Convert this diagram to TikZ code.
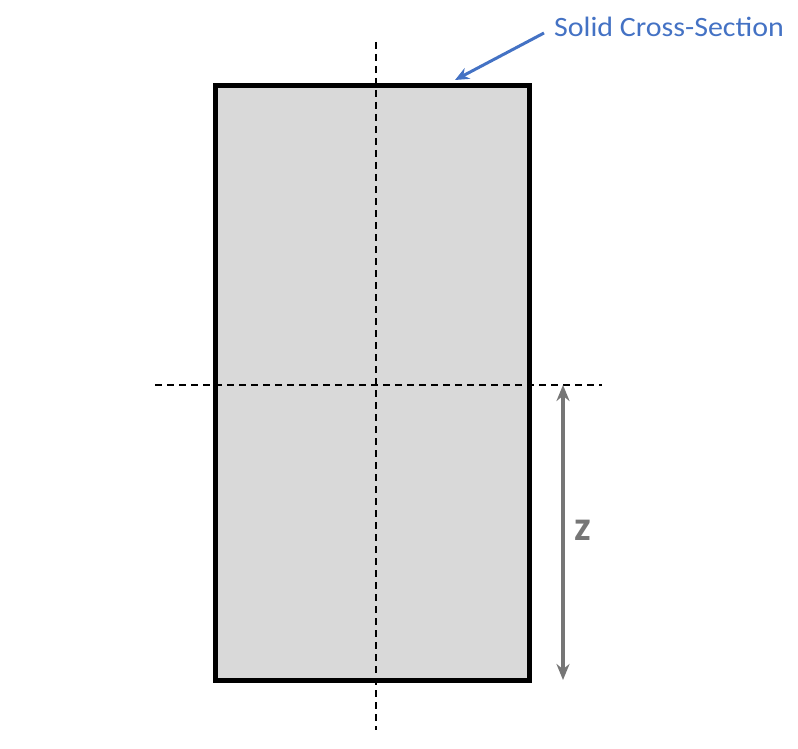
\documentclass[tikz,border=0pt]{standalone}
\usepackage{fontspec}
\setmainfont{Carlito}
\newfontfamily\labelfont[FakeStretch=1.07]{Carlito}
\usetikzlibrary{arrows.meta}
\tikzset{
  section/.style={draw=black, line width=5pt, fill={rgb,255:red,217;green,217;blue,217}},
  axisline/.style={draw=black, line width=1.2pt, dash pattern=on 7pt off 5pt},
  dimarrow/.style={draw={rgb,255:red,118;green,118;blue,118}, line width=4pt, {Stealth[length=16pt,width=13pt]}-{Stealth[length=16pt,width=13pt]}},
  callout/.style={draw={rgb,255:red,68;green,114;blue,196}, line width=3pt, -{Stealth[length=14pt,width=12pt]}},
}
\begin{document}
\begin{tikzpicture}[x=1pt,y=-1pt]
\useasboundingbox (0,0) rectangle (798,749);
\node[section, minimum width=314pt, minimum height=595pt, inner sep=0pt, outer sep=0pt, anchor=north west] (rect) at (215.5,85.5) {};
\coordinate (vtop) at (376,42);
\coordinate (vbot) at (376,730);
\coordinate (hl) at (155,385);
\coordinate (hr) at (602,385);
\draw[axisline] (vtop) -- (vbot);
\draw[axisline] (hl) -- (hr);
\coordinate (ztop) at (563,385);
\coordinate (zbot) at (563,680);
\draw[dimarrow] (ztop) -- (zbot);
\node[text={rgb,255:red,118;green,118;blue,118}, font=\fontsize{42}{42}\selectfont\bfseries, anchor=base] (zlab) at (583,540) {z};
\node[text={rgb,255:red,68;green,114;blue,196}, font=\labelfont\fontsize{28}{28}\selectfont, anchor=base west, inner sep=0pt] (lab) at (554,37) {Solid Cross-Section};
\coordinate (tip) at (455,80);
\draw[callout] (544,33) -- (tip);
\end{tikzpicture}
\end{document}
